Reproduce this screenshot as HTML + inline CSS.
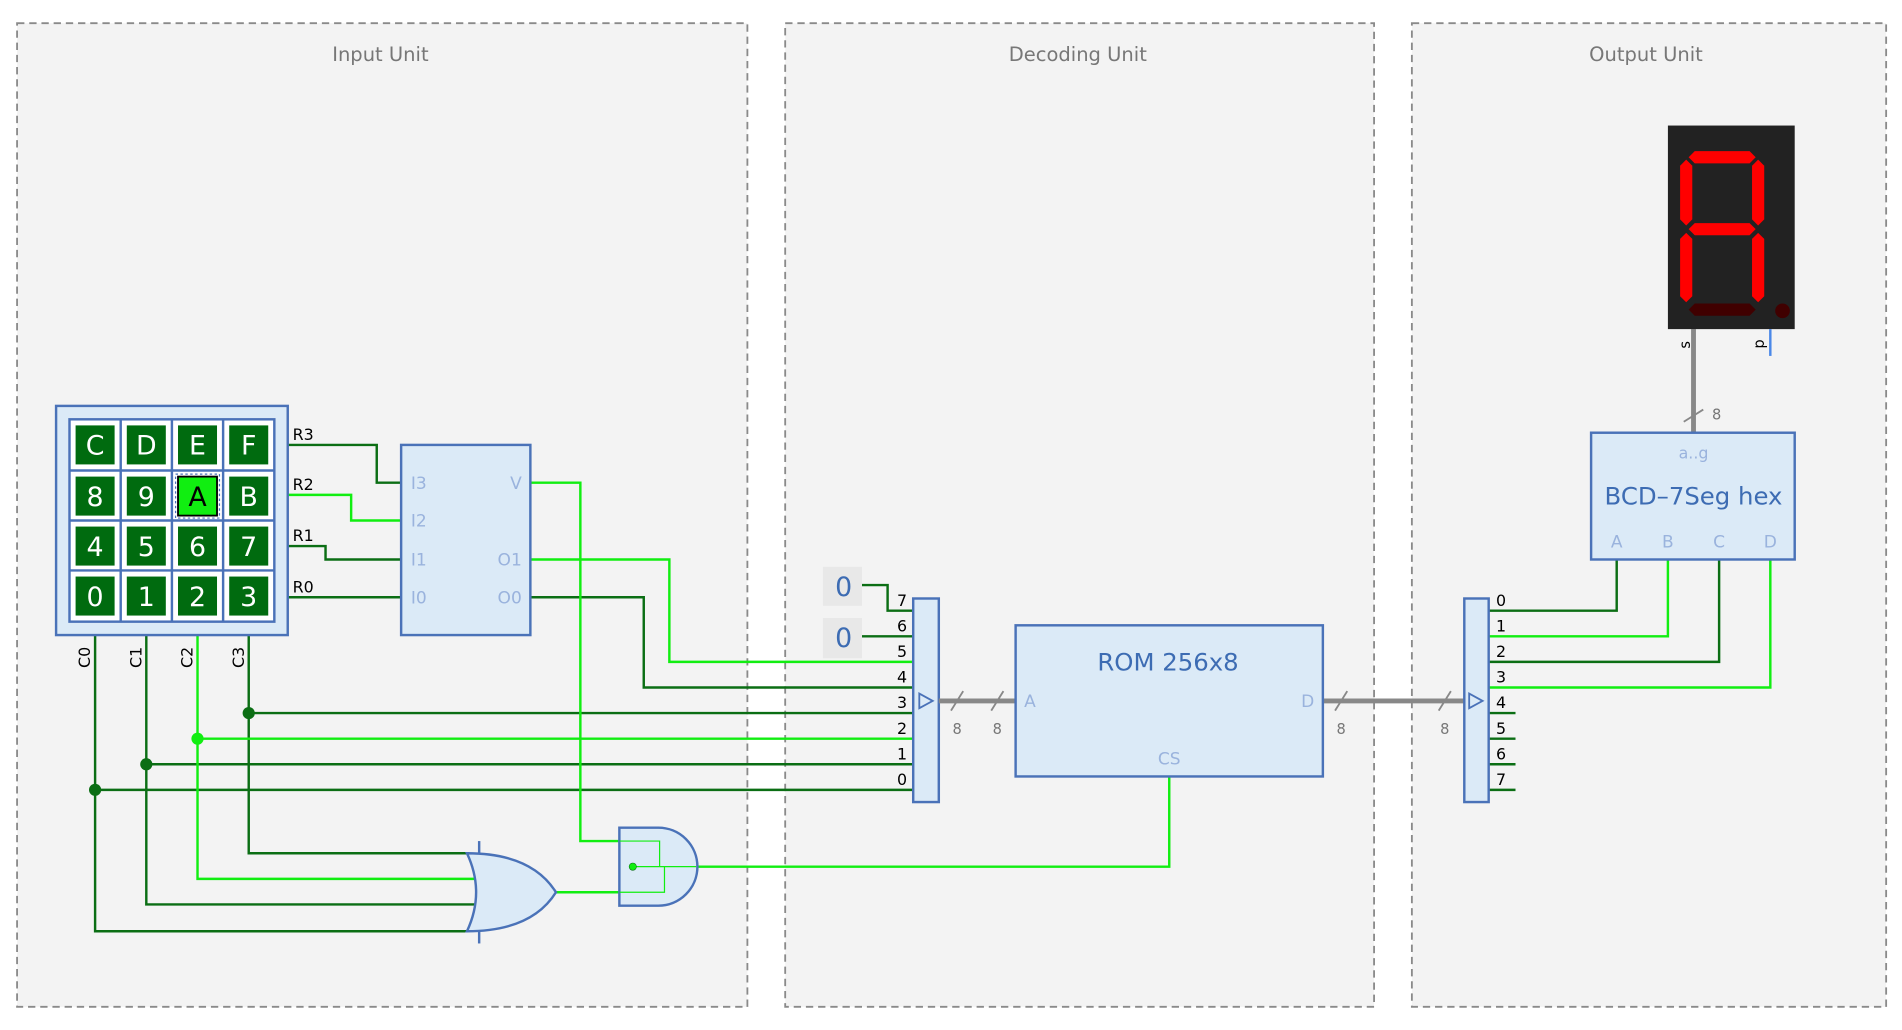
<!DOCTYPE html>
<html><head><meta charset="utf-8"><style>
html,body{margin:0;padding:0;background:#fff;width:1902px;height:1030px;overflow:hidden}
svg{display:block}
text{font-family:"DejaVu Sans","Liberation Sans",sans-serif}
</style></head><body>
<svg width="1902" height="1030" viewBox="0 0 1560 845" preserveAspectRatio="none" xmlns="http://www.w3.org/2000/svg">
<g fill="#f3f3f3" stroke="#8a8a8a" stroke-width="1.5" stroke-dasharray="6,4">
<rect x="14" y="19" width="599" height="807"/>
<rect x="644" y="19" width="483" height="807"/>
<rect x="1158" y="19" width="389" height="807"/>
</g>
<g fill="#777" font-size="16" text-anchor="middle">
<text x="312" y="50">Input Unit</text>
<text x="884" y="50">Decoding Unit</text>
<text x="1350" y="50">Output Unit</text>
</g>

<!-- wires dark -->
<g fill="none" stroke="#0b6e14" stroke-width="2">
<polyline points="236,365 309,365 309,396 329,396"/>
<polyline points="236,448 267,448 267,459 329,459"/>
<polyline points="236,490 329,490"/>
<polyline points="435,490 528,490 528,564 749,564"/>
<polyline points="204,521 204,700 385,700"/>
<polyline points="120,521 120,742 390,742"/>
<polyline points="78,521 78,764 383,764"/>
<line x1="204" y1="585" x2="749" y2="585"/>
<line x1="120" y1="627" x2="749" y2="627"/>
<line x1="78" y1="648" x2="749" y2="648"/>
<polyline points="707,480 728,480 728,501 749,501"/>
<line x1="707" y1="522" x2="749" y2="522"/>
<polyline points="1221,501 1326,501 1326,459"/>
<polyline points="1221,543 1410,543 1410,459"/>
<line x1="1221" y1="585" x2="1243" y2="585"/>
<line x1="1221" y1="606" x2="1243" y2="606"/>
<line x1="1221" y1="627" x2="1243" y2="627"/>
<line x1="1221" y1="648" x2="1243" y2="648"/>
</g>
<!-- wires lime -->
<g fill="none" stroke="#11ee11" stroke-width="2">
<polyline points="236,406 288,406 288,427 329,427"/>
<polyline points="435,396 476,396 476,690 508,690"/>
<polyline points="435,459 549,459 549,543 749,543"/>
<polyline points="162,521 162,721 390,721"/>
<line x1="162" y1="606" x2="749" y2="606"/>
<polyline points="456,732 508,732"/>
<polyline points="571,711 959,711 959,637"/>
<polyline points="1221,522 1368,522 1368,459"/>
<polyline points="1221,564 1452,564 1452,459"/>
</g>
<g fill="#0b6e14"><circle cx="204" cy="585" r="5"/><circle cx="120" cy="627" r="5"/><circle cx="78" cy="648" r="5"/></g>
<circle cx="162" cy="606" r="5" fill="#11ee11"/>

<!-- keypad -->
<rect x="46" y="333" width="190" height="188" fill="#dbeaf7" stroke="#4a72b8" stroke-width="2"/>
<rect x="57" y="344" width="168" height="166" fill="#fff" stroke="#4a72b8" stroke-width="2"/>
<g stroke="#4a72b8" stroke-width="2">
<line x1="99" y1="344" x2="99" y2="510"/><line x1="141" y1="344" x2="141" y2="510"/><line x1="183" y1="344" x2="183" y2="510"/>
<line x1="57" y1="386" x2="225" y2="386"/><line x1="57" y1="427" x2="225" y2="427"/><line x1="57" y1="468" x2="225" y2="468"/>
</g>
<g fill="#006b0f">
<rect x="62" y="349" width="32" height="32"/><rect x="104" y="349" width="32" height="32"/><rect x="146" y="349" width="32" height="32"/><rect x="188" y="349" width="32" height="32"/>
<rect x="62" y="391" width="32" height="32"/><rect x="104" y="391" width="32" height="32"/><rect x="188" y="391" width="32" height="32"/>
<rect x="62" y="432" width="32" height="32"/><rect x="104" y="432" width="32" height="32"/><rect x="146" y="432" width="32" height="32"/><rect x="188" y="432" width="32" height="32"/>
<rect x="62" y="473" width="32" height="32"/><rect x="104" y="473" width="32" height="32"/><rect x="146" y="473" width="32" height="32"/><rect x="188" y="473" width="32" height="32"/>
</g>
<rect x="144" y="389" width="36" height="36" fill="none" stroke="#4a72b8" stroke-dasharray="2,2"/>
<rect x="146" y="391" width="32" height="32" fill="#11ee11" stroke="#000" stroke-width="1.5"/>
<g fill="#fff" font-size="22" text-anchor="middle">
<text x="78" y="373">C</text><text x="120" y="373">D</text><text x="162" y="373">E</text><text x="204" y="373">F</text>
<text x="78" y="415">8</text><text x="120" y="415">9</text><text x="162" y="415" fill="#000">A</text><text x="204" y="415">B</text>
<text x="78" y="456">4</text><text x="120" y="456">5</text><text x="162" y="456">6</text><text x="204" y="456">7</text>
<text x="78" y="497">0</text><text x="120" y="497">1</text><text x="162" y="497">2</text><text x="204" y="497">3</text>
</g>
<g font-size="13" fill="#000">
<text x="240" y="361">R3</text><text x="240" y="402">R2</text><text x="240" y="444">R1</text><text x="240" y="486">R0</text>
<text transform="translate(74,548) rotate(-90)">C0</text>
<text transform="translate(116,548) rotate(-90)">C1</text>
<text transform="translate(158,548) rotate(-90)">C2</text>
<text transform="translate(200,548) rotate(-90)">C3</text>
</g>

<!-- encoder -->
<rect x="329" y="365" width="106" height="156" fill="#dbeaf7" stroke="#4a72b8" stroke-width="2"/>
<g fill="#9ab3dd" font-size="14">
<text x="337" y="401">I3</text><text x="337" y="432">I2</text><text x="337" y="464">I1</text><text x="337" y="495">I0</text>
<text x="428" y="401" text-anchor="end">V</text><text x="428" y="464" text-anchor="end">O1</text><text x="428" y="495" text-anchor="end">O0</text>
</g>

<!-- OR gate -->
<g stroke="#4a72b8" stroke-width="2">
<line x1="393" y1="690" x2="393" y2="700"/><line x1="393" y1="764" x2="393" y2="774"/>
</g>
<path d="M383,700 Q436,700 456,732 Q436,764 383,764 Q398,732 383,700 Z" fill="#dbeaf7" stroke="#4a72b8" stroke-width="2"/>
<!-- AND gate -->
<path d="M508,679 L540,679 A32,32 0 0 1 540,743 L508,743 Z" fill="#dbeaf7" stroke="#4a72b8" stroke-width="2"/>
<g stroke="#11ee11" stroke-width="1" fill="none">
<polyline points="508,690 541,690 541,711"/><polyline points="508,732 545,732 545,711"/><line x1="519" y1="711" x2="571" y2="711"/>
</g>
<circle cx="519" cy="711" r="3" fill="#11ee11" stroke="#0b6e14" stroke-width="0.5"/>

<!-- constants -->
<rect x="675" y="465" width="32" height="32" fill="#e8e8e8"/>
<rect x="675" y="507" width="32" height="33" fill="#e8e8e8"/>
<g fill="#3d6cb3" font-size="22" text-anchor="middle"><text x="692" y="489">0</text><text x="692" y="531">0</text></g>

<!-- input splitter -->
<g font-size="13" fill="#000" text-anchor="end">
<text x="744" y="497">7</text><text x="744" y="518">6</text><text x="744" y="539">5</text><text x="744" y="560">4</text>
<text x="744" y="581">3</text><text x="744" y="602">2</text><text x="744" y="623">1</text><text x="744" y="644">0</text>
</g>
<rect x="749" y="491" width="21" height="167" fill="#dbeaf7" stroke="#4a72b8" stroke-width="2"/>
<path d="M754,569 L765,575 L754,581 Z" fill="none" stroke="#4a72b8" stroke-width="1.5"/>

<!-- buses -->
<g stroke="#888" stroke-width="4"><line x1="770" y1="575" x2="833" y2="575"/><line x1="1085" y1="575" x2="1201" y2="575"/><line x1="1389" y1="355" x2="1389" y2="270"/></g>
<g stroke="#888" stroke-width="1.5">
<line x1="780" y1="583" x2="790" y2="567"/><line x1="813" y1="583" x2="823" y2="567"/>
<line x1="1095" y1="583" x2="1105" y2="567"/><line x1="1180" y1="583" x2="1190" y2="567"/>
<line x1="1381" y1="346" x2="1397" y2="336"/>
</g>
<g fill="#777" font-size="12" text-anchor="middle">
<text x="785" y="602">8</text><text x="818" y="602">8</text><text x="1100" y="602">8</text><text x="1185" y="602">8</text><text x="1408" y="344">8</text>
</g>

<!-- ROM -->
<rect x="833" y="513" width="252" height="124" fill="#dbeaf7" stroke="#4a72b8" stroke-width="2"/>
<text x="958" y="550" fill="#3d6cb3" font-size="20" text-anchor="middle">ROM 256x8</text>
<g fill="#9ab3dd" font-size="14">
<text x="840" y="580">A</text><text x="1078" y="580" text-anchor="end">D</text><text x="959" y="627" text-anchor="middle">CS</text>
</g>

<!-- output splitter -->
<rect x="1201" y="491" width="20" height="167" fill="#dbeaf7" stroke="#4a72b8" stroke-width="2"/>
<path d="M1205,569 L1216,575 L1205,581 Z" fill="none" stroke="#4a72b8" stroke-width="1.5"/>
<g font-size="13" fill="#000">
<text x="1227" y="497">0</text><text x="1227" y="518">1</text><text x="1227" y="539">2</text><text x="1227" y="560">3</text>
<text x="1227" y="581">4</text><text x="1227" y="602">5</text><text x="1227" y="623">6</text><text x="1227" y="644">7</text>
</g>

<!-- BCD -->
<rect x="1305" y="355" width="167" height="104" fill="#dbeaf7" stroke="#4a72b8" stroke-width="2"/>
<text x="1389" y="376" fill="#9ab3dd" font-size="13" text-anchor="middle">a..g</text>
<text x="1389" y="414" fill="#3d6cb3" font-size="20" text-anchor="middle">BCD–7Seg hex</text>
<g fill="#9ab3dd" font-size="14" text-anchor="middle">
<text x="1326" y="449">A</text><text x="1368" y="449">B</text><text x="1410" y="449">C</text><text x="1452" y="449">D</text>
</g>

<!-- display -->
<rect x="1368" y="103" width="104" height="167" fill="#222"/>
<g fill="#ff0000">
<polygon points="1385,129 1390,124 1435,124 1440,129 1435,134 1390,134"/>
<polygon points="1385,188 1390,183 1435,183 1440,188 1435,193 1390,193"/>
<polygon points="1378,136 1383,131 1388,136 1388,180 1383,185 1378,180"/>
<polygon points="1437,136 1442,131 1447,136 1447,180 1442,185 1437,180"/>
<polygon points="1378,196 1383,191 1388,196 1388,243 1383,248 1378,243"/>
<polygon points="1437,196 1442,191 1447,196 1447,243 1442,248 1437,243"/>
</g>
<polygon points="1385,254 1390,249 1435,249 1440,254 1435,259 1390,259" fill="#400000"/>
<circle cx="1462" cy="255" r="6" fill="#400000"/>
<line x1="1452" y1="270" x2="1452" y2="292" stroke="#4a88e8" stroke-width="2"/>
<g font-size="12" fill="#000">
<text transform="translate(1386,286) rotate(-90)">s</text>
<text transform="translate(1447,286) rotate(-90)">p</text>
</g>
</svg>
</body></html>
